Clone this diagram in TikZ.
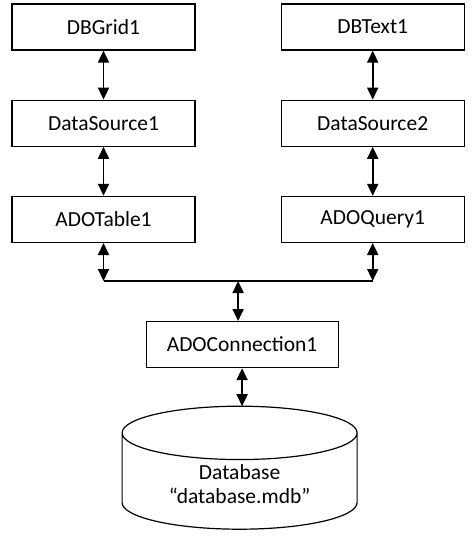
\documentclass[tikz,border=0pt]{standalone}
\usepackage{fontspec}
\setmainfont{Carlito}
\usetikzlibrary{positioning, arrows.meta, shapes.geometric, calc}

\begin{document}
\begin{tikzpicture}[
  node distance=49pt and 85pt,
  font=\fontsize{21.5pt}{24pt}\selectfont,
  box/.style={draw, line width=1.2pt, minimum width=183pt, minimum height=46pt, inner sep=0pt},
  arrow/.style={{Triangle[length=12pt,width=11pt]}-{Triangle[length=12pt,width=11pt]}, line width=1.8pt}
]
\useasboundingbox (0,0) rectangle (474pt,-543pt);

\node[box] (grid) at (103.5pt,-27pt) {DBGrid1};
\node[box, below=of grid] (dsA) {DataSource1};
\node[box, below=of dsA] (table) {ADOTable1};
\node[box, right=of grid] (text) {DBText1};
\node[box, below=of text] (dsB) {DataSource2};
\node[box, below=of dsB] (query) {ADOQuery1};

% bus
\coordinate (busL) at ([yshift=-38pt]table.south);
\coordinate (busR) at ([yshift=-38pt]query.south);
\coordinate (busM) at ($(busL)!0.5!(busR)$);

\node[box, minimum width=192pt, below=40pt of busM, xshift=4pt] (conn) {ADOConnection1};
\node[draw, line width=1.2pt, cylinder, shape border rotate=90, aspect=0.36,
      minimum width=235pt, minimum height=123pt, outer sep=0pt, align=center,
      anchor=north] (db) at ([xshift=-2.5pt,yshift=-38pt]conn.south) {Database\\``database.mdb''};

\draw[arrow] (grid) -- (dsA);
\draw[arrow] (dsA) -- (table);
\draw[arrow] (text) -- (dsB);
\draw[arrow] (dsB) -- (query);
\draw[arrow] (table) -- (busL);
\draw[arrow] (query) -- (busR);
\draw[line width=1.6pt] (busL) -- (busR);
\draw[arrow] (busM) -- (busM |- conn.north);
\draw[arrow] (conn) -- (conn |- db.north);
\end{tikzpicture}
\end{document}
